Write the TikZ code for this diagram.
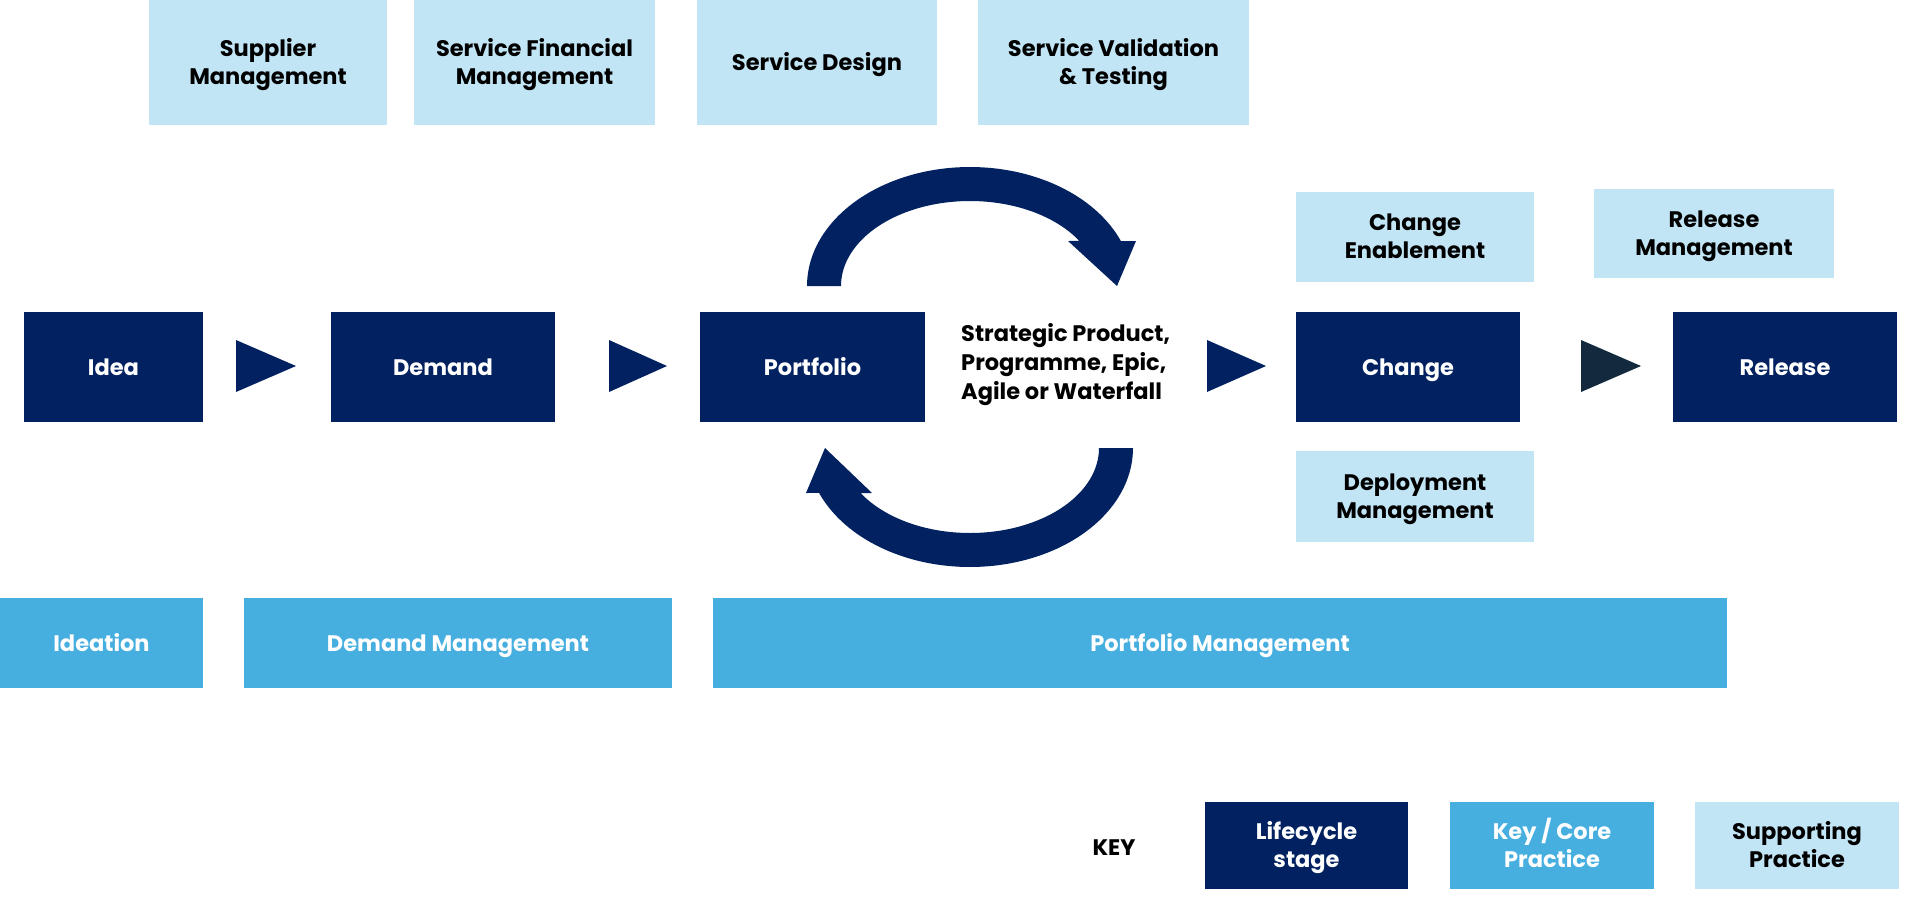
\documentclass[tikz,border=0pt]{standalone}
\usepackage{fontspec}
\setmainfont{Poppins}
\definecolor{navy}{HTML}{022160}
\definecolor{corecol}{HTML}{46AFE0}
\definecolor{suppcol}{HTML}{C2E5F5}
\definecolor{chev}{HTML}{13293D}
\newcommand{\dg}{\vphantom{g}}
\newcommand{\tp}{\rule{0pt}{21.5pt}}
\begin{document}
\begin{tikzpicture}[x=1pt,y=-1pt,
  box/.style={rectangle, inner sep=0pt, align=center, font=\bfseries\fontsize{22.5}{28}\selectfont},
  single/.style={text height=18pt, text depth=2pt},
  life/.style={box, fill=navy, text=white},
  core/.style={box, fill=corecol, text=white},
  supp/.style={box, fill=suppcol, text=black}]
\useasboundingbox (0,0) rectangle (1920,908);
% top supporting practices
\node[supp, minimum width=238pt, minimum height=125pt] (sup1) at (268,62.5) {\tp Supplier\\Management\dg};
\node[supp, minimum width=241pt, minimum height=125pt] (sup2) at (534.5,62.5) {\tp Service Financial\\Management\dg};
\node[supp, single, minimum width=240pt, minimum height=125pt] (sup3) at (817,62.5) {Service Design};
\node[supp, minimum width=271pt, minimum height=125pt] (sup4) at (1113.5,62.5) {\tp Service Validation\\\& Testing\dg};
% lifecycle stages
\node[life, single, minimum width=179pt, minimum height=110pt] (idea) at (113.5,367) {Idea};
\node[life, single, minimum width=224pt, minimum height=110pt] (demand) at (443,367) {Demand};
\node[life, single, minimum width=225pt, minimum height=110pt] (portfolio) at (812.5,367) {Portfolio};
\node[life, single, minimum width=224pt, minimum height=110pt] (change) at (1408,367) {Change};
\node[life, single, minimum width=224pt, minimum height=110pt] (release) at (1785,367) {Release};
% chevrons
\fill[navy] (236,340) -- (296,366) -- (236,392) -- cycle;
\fill[navy] (609,340) -- (667,366) -- (609,392) -- cycle;
\fill[navy] (1207,340) -- (1266,366) -- (1207,392) -- cycle;
\fill[chev] (1581,340) -- (1641,366) -- (1581,392) -- cycle;
% strategic text
\node[anchor=west, align=left, inner sep=0pt, font=\bfseries\fontsize{22.5}{29}\selectfont] (strat) at (961,365) {Strategic Product,\\Programme, Epic,\\Agile or Waterfall};
% circular arrows
\fill[navy] plot[domain=180:337.8,samples=80] ({970+163*cos(\x)},{286+119*sin(\x)})
  -- (1136,241) -- (1117,286) -- (1068,241)
  -- plot[domain=328:180,samples=80] ({970+129*cos(\x)},{286+85*sin(\x)}) -- cycle;
\fill[navy] plot[domain=0:157.8,samples=80] ({970+163*cos(\x)},{448+119*sin(\x)})
  -- (806,493) -- (825,448) -- (872,493)
  -- plot[domain=148:0,samples=80] ({970+129*cos(\x)},{448+85*sin(\x)}) -- cycle;
% supporting near change/release
\node[supp, minimum width=238pt, minimum height=90pt] (chen) at (1415,237) {\tp Change\\Enablement\dg};
\node[supp, minimum width=240pt, minimum height=89pt] (relm) at (1714,233.5) {\tp Release\\Management\dg};
\node[supp, minimum width=238pt, minimum height=91pt] (depm) at (1415,496.5) {\tp Deployment\\Management\dg};
% core practices
\node[core, single, minimum width=203pt, minimum height=90pt] (ideation) at (101.5,643) {Ideation};
\node[core, single, minimum width=428pt, minimum height=90pt] (demm) at (458,643) {Demand Management};
\node[core, single, minimum width=1014pt, minimum height=90pt] (portm) at (1220,643) {Portfolio Management};
% key
\node[box, single] (key) at (1114,847) {KEY};
\node[life, minimum width=203pt, minimum height=87pt] (klife) at (1306.5,845.5) {\tp Lifecycle\\stage\dg};
\node[core, minimum width=204pt, minimum height=87pt] (kcore) at (1552,845.5) {\tp Key / Core\\Practice\dg};
\node[supp, minimum width=204pt, minimum height=87pt] (ksupp) at (1797,845.5) {\tp Supporting\\Practice\dg};
\end{tikzpicture}
\end{document}
